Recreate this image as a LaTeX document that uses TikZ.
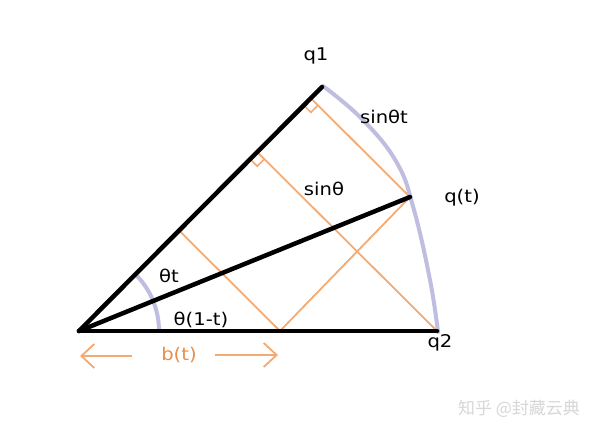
\documentclass[tikz,border=0pt]{standalone}
\usepackage{fontspec}
\setmainfont{DejaVu Sans}[FakeStretch=1.12]
\newfontfamily\cjkfont{Noto Sans CJK SC}
\usetikzlibrary{calc,arrows.meta}
\definecolor{orng}{RGB}{243,170,115}
\definecolor{orngtxt}{RGB}{234,142,72}
\definecolor{lav}{RGB}{192,190,224}
\definecolor{wmark}{RGB}{215,215,215}
\begin{document}
\begin{tikzpicture}[x=1pt,y=-1pt,
  blackline/.style={line width=4.5pt, line cap=round},
  orangeline/.style={orng, line width=1.8pt},
  lavline/.style={lav, line width=4pt, line cap=round},
  lbl/.style={inner sep=0pt, font=\fontsize{17.5}{19}\selectfont},
  olbl/.style={lbl, text=orngtxt},
  rmark/.style={orng, line width=1.6pt},
  barrow/.style={orng, line width=1.8pt, -{Straight Barb[length=13pt,width=24pt,line width=1.8pt]}}]
\useasboundingbox (0,0) rectangle (600,434);
\fill[white] (0,0) rectangle (600,434);
% key points
\coordinate (O) at (79,331);
\coordinate (q1) at (322,87);
\coordinate (q2) at (437,331);
\coordinate (qt) at (410,197);
\coordinate (B) at (280,331);
% feet of perpendiculars on O--q1
\coordinate (F1) at ($(O)!(q2)!(q1)$);
\coordinate (F2) at ($(O)!(qt)!(q1)$);
\coordinate (F3) at ($(O)!(B)!(q1)$);
% orange construction lines
\draw[orangeline] (q2) -- (F1);
\draw[orangeline] (qt) -- (F2);
\draw[orangeline] (B) -- (F3);
\draw[orangeline] (B) -- (qt);
% right angle marks
\coordinate (a1) at ($(F1)!10pt!(O)$);
\coordinate (c1) at ($(F1)!10pt!(q2)$);
\draw[rmark] (a1) -- ($(a1)+(c1)-(F1)$) -- (c1);
\coordinate (a2) at ($(F2)!10pt!(O)$);
\coordinate (c2) at ($(F2)!10pt!(qt)$);
\draw[rmark] (a2) -- ($(a2)+(c2)-(F2)$) -- (c2);
% lavender arcs
\draw[lavline] plot[smooth, tension=0.7] coordinates {(323,86) (363,120) (397,163) (414,210) (430,280) (438,332)};
\coordinate (s0) at ($(O)!80pt!(q2)$);
\draw[lavline, line cap=butt] (s0) arc[start angle=0, end angle=45.1, radius=80pt];
% black lines
\draw[blackline] (O) -- (q1);
\draw[blackline] (O) -- (q2);
\draw[blackline] (O) -- (qt);
% labels
\node[lbl] (lq1) at (316,56) {q1};
\node[lbl] (lsint) at (384,117) {sinθt};
\node[lbl] (lsin) at (324,189) {sinθ};
\node[lbl] (lqt) at (462,198) {q(t)};
\node[lbl] (lth) at (169,276) {θt};
\node[lbl] (lth1) at (201,320) {θ(1-t)};
\node[lbl] (lq2) at (440,343) {q2};
\node[olbl] (lb) at (179,355) {b(t)};
% b(t) arrows
\coordinate (la1) at (132,356);
\coordinate (la2) at (80,356);
\coordinate (ra1) at (215,355);
\coordinate (ra2) at (278,355);
\draw[barrow] (la1) -- (la2);
\draw[barrow] (ra1) -- (ra2);
% watermark
\node[inner sep=0pt, text=wmark, font=\cjkfont\fontsize{17}{19}\selectfont] (wm) at (519,409) {知乎 @封藏云典};
\end{tikzpicture}
\end{document}
